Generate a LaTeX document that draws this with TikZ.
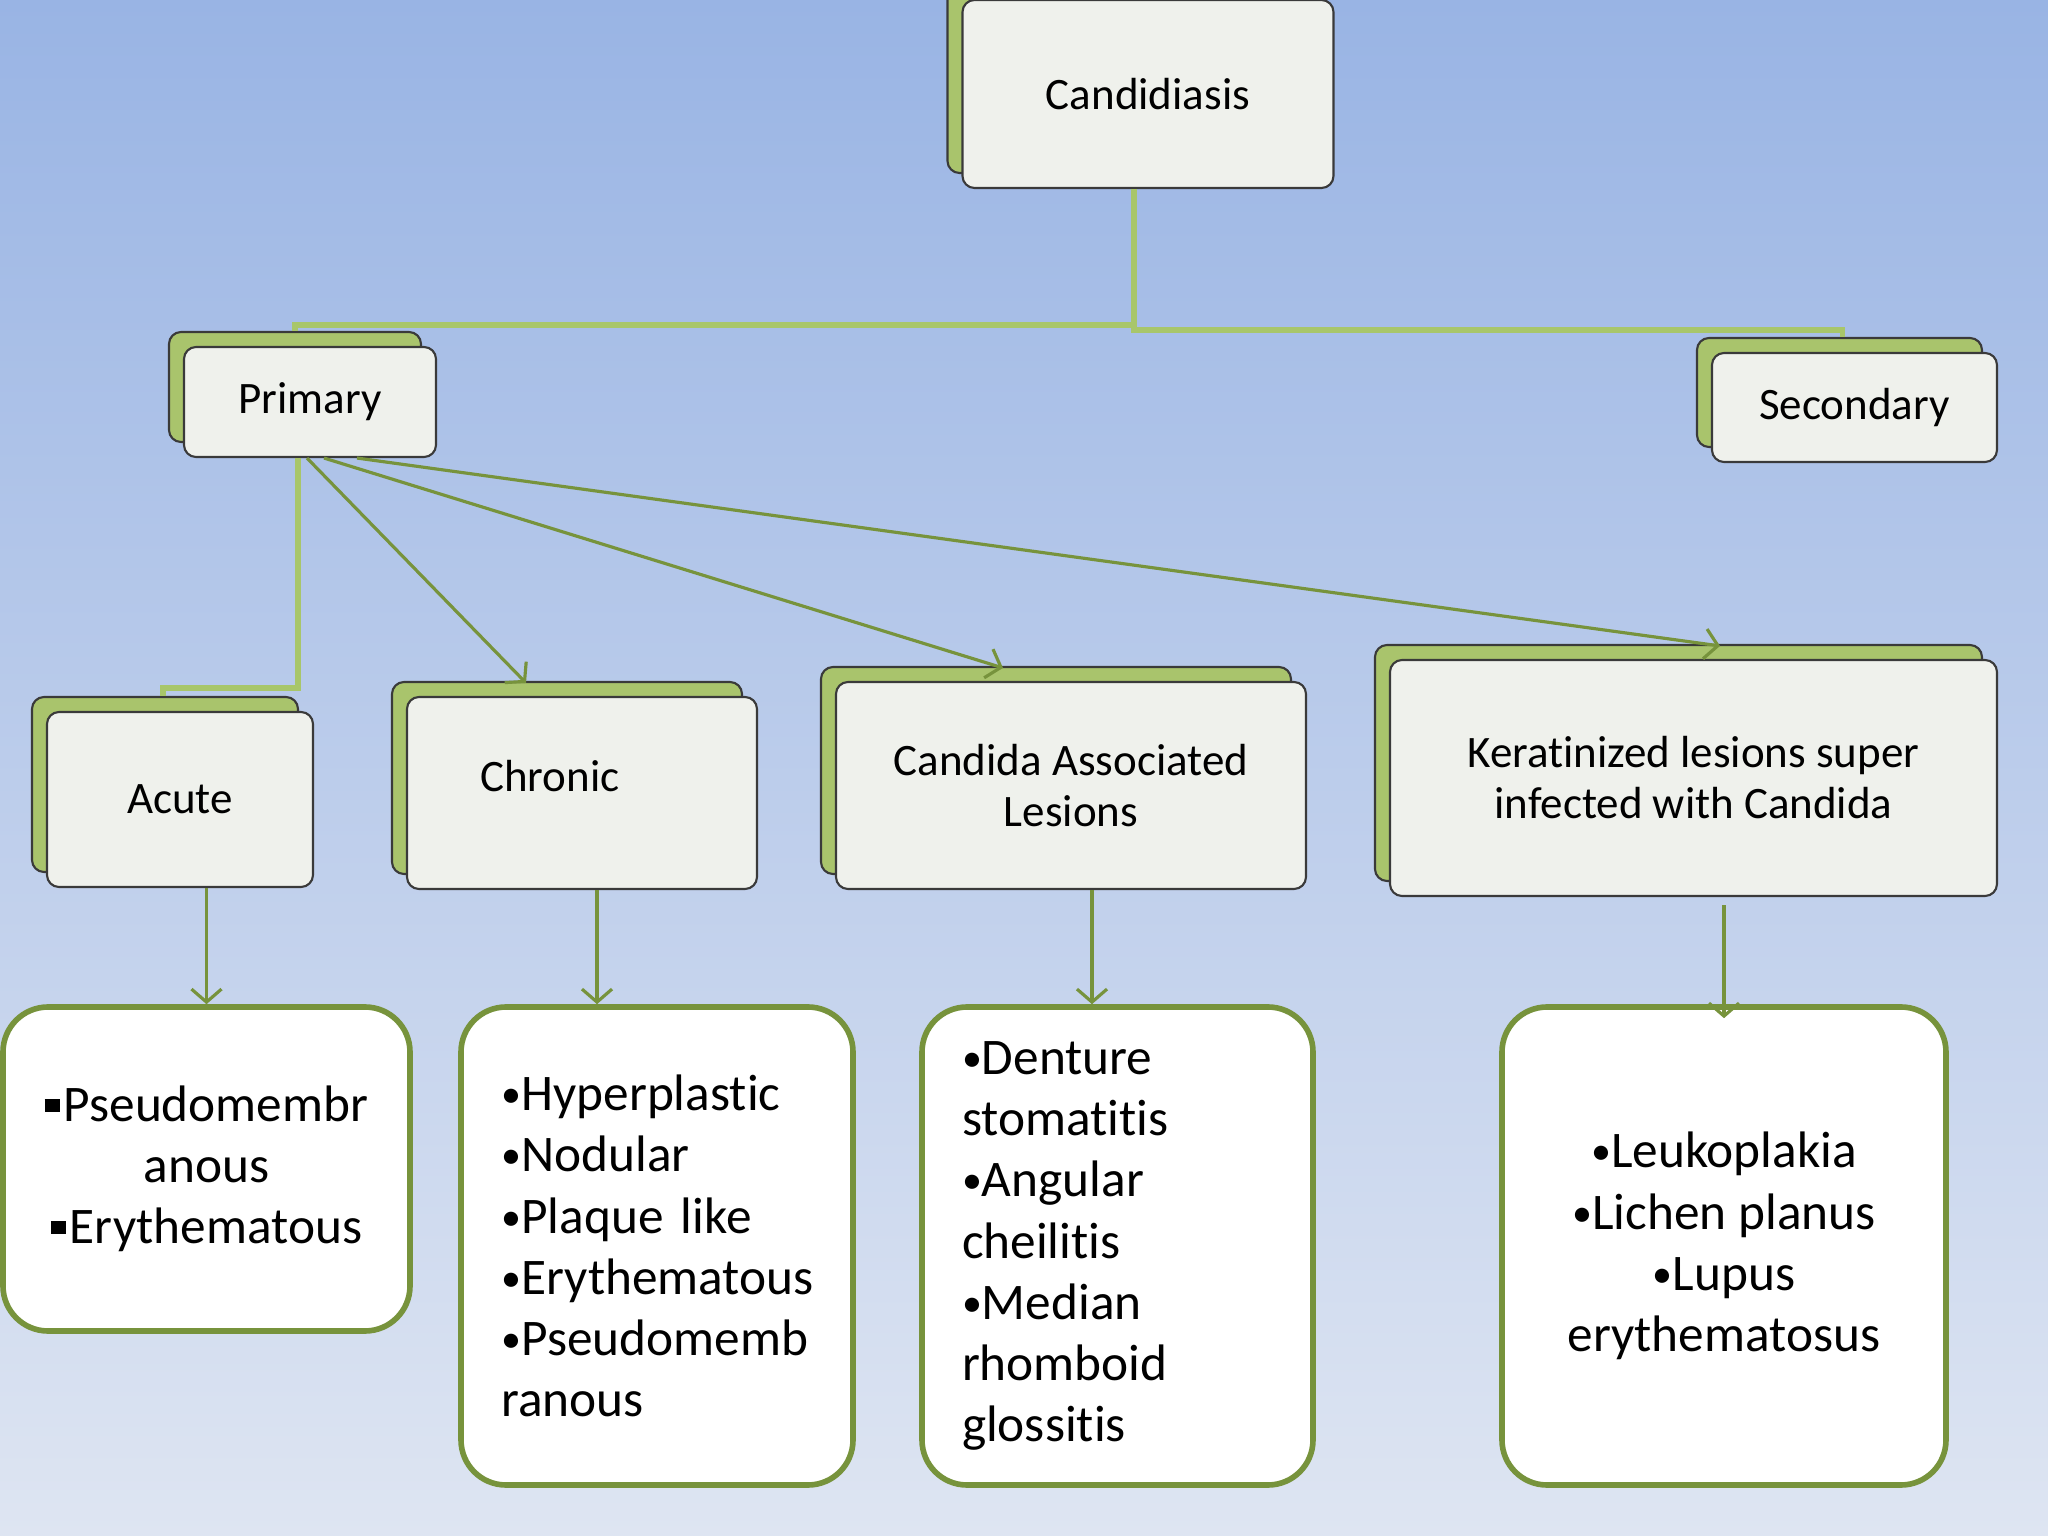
\documentclass[tikz,border=0pt]{standalone}
\usepackage{fontspec}
\setmainfont{Carlito}[Ligatures={NoCommon}]
\usepackage{graphicx}
\usepackage{xcolor}
\usepackage{tikz}
\usetikzlibrary{shapes,arrows,positioning,calc,shadows,arrows.meta}

\definecolor{bgtop}{HTML}{99B4E4}
\definecolor{bgbot}{HTML}{DEE5F2}
\definecolor{facegray}{HTML}{EFF1EC}
\definecolor{edgegray}{HTML}{3A3A3A}
\definecolor{backgreen}{HTML}{A9C46C}
\definecolor{linegreen}{HTML}{A8C66A}
\definecolor{arrowgreen}{HTML}{77933C}

\tikzset{
    topfont/.style={font=\fontsize{12.8}{14.5}\selectfont},
    topbox/.style={draw=edgegray, line width=0.6pt, fill=facegray, rounded corners=0.12cm,
        align=center, topfont,
        copy shadow={shadow xshift=-0.15cm, shadow yshift=0.15cm, fill=backgreen, draw=edgegray, line width=0.6pt}},
    listbox/.style={draw=arrowgreen, line width=1.6pt, fill=white, rounded corners=0.45cm,
        font=\fontsize{14.6}{17.4}\selectfont},
    elbow/.style={draw=linegreen, line width=1.5pt},
    arr/.style={draw=arrowgreen, line width=0.9pt, -{Straight Barb[length=1.3mm,width=3mm]}}
}

\newcommand{\sqb}{\raisebox{0.10cm}{\rule{0.15cm}{0.13cm}}\hspace{0.04cm}}
\newcommand{\bul}{\raisebox{0.03cm}{\scalebox{0.78}{•}}}

\begin{document}
\begin{tikzpicture}
    \useasboundingbox (0,0) rectangle (20.48,-15.36);
    \shade[top color=bgtop, bottom color=bgbot] (0,0) rectangle (20.48,-15.36);

    % Top and second level
    \node[topbox, minimum width=3.71cm, minimum height=1.88cm] (cand) at (11.48,-0.94) {Candidiasis};
    \node[topbox, minimum width=2.52cm, minimum height=1.10cm] (prim) at (3.10,-4.02) {Primary};
    \node[topbox, minimum width=2.85cm, minimum height=1.09cm] (sec) at (18.545,-4.075) {Secondary};

    % Kinds of primary
    \node[topbox, minimum width=2.66cm, minimum height=1.75cm] (acute) at (1.80,-7.995) {Acute};
    \node[topbox, minimum width=3.50cm, minimum height=1.92cm,
        label={[topfont, xshift=-0.32cm, yshift=0.17cm]center:Chronic}] (chron) at (5.82,-7.93) {};
    \node[topbox, minimum width=4.70cm, minimum height=2.07cm] (assoc) at (10.71,-7.855) {Candida Associated\\Lesions};
    \node[topbox, minimum width=6.07cm, minimum height=2.36cm] (kerat) at (16.935,-7.78) {Keratinized lesions super\\infected with Candida};

    % Lists
    \node[listbox, minimum width=4.07cm, minimum height=3.24cm, align=center] (acutelist) at (2.065,-11.69)
        {\sqb Pseudomembr\\anous\\\sqb Erythematous};
    \node[listbox, minimum width=3.92cm, minimum height=4.78cm, text width=3.11cm, inner xsep=0.4cm, align=left] (chronlist) at (6.57,-12.46)
        {\bul Hyperplastic\\\bul Nodular\\\bul Plaque like\\\bul Erythematous\\\bul Pseudomemb\\ranous};
    \node[listbox, minimum width=3.91cm, minimum height=4.78cm, text width=3.11cm, inner xsep=0.4cm, align=left] (assoclist) at (11.175,-12.46)
        {\bul Denture\\stomatitis\\\bul Angular\\cheilitis\\\bul Median\\rhomboid\\glossitis};
    \node[listbox, minimum width=4.44cm, minimum height=4.78cm, align=center] (keratlist) at (17.24,-12.46)
        {\bul Leukoplakia\\\bul Lichen planus\\\bul Lupus\\erythematosus};

    % Elbow lines
    \draw[elbow] ([xshift=-0.14cm]cand.south) -- ++(0,-1.36) -| ([xshift=-0.15cm,yshift=0.15cm]prim.north);
    \draw[elbow] ([xshift=-0.14cm]cand.south) -- ++(0,-1.41) -| ([xshift=-0.12cm,yshift=0.15cm]sec.north);
    \draw[elbow] ([xshift=-0.12cm]prim.south) -- ++(0,-2.30) -| ([xshift=-0.17cm,yshift=0.15cm]acute.north);

    % Arrows from primary
    \draw[arr] ([xshift=-0.03cm]prim.south) -- ([xshift=-0.56cm,yshift=0.13cm]chron.north);
    \draw[arr] ([xshift=0.14cm]prim.south) -- ([xshift=-0.68cm,yshift=0.13cm]assoc.north);
    \draw[arr] ([xshift=0.47cm]prim.south) -- ([xshift=0.265cm,yshift=0.13cm]kerat.north);

    % Arrows down to lists
    \draw[arr] (acutelist.north |- acute.south) -- (acutelist.north);
    \draw[arr] ([xshift=0.15cm]chron.south) -- ([xshift=0.15cm]chron.south |- chronlist.north);
    \draw[arr] ([xshift=0.21cm]assoc.south) -- ([xshift=0.21cm]assoc.south |- assoclist.north);
    \draw[arr] ([yshift=-0.08cm]keratlist.north |- kerat.south) -- ([yshift=-0.14cm]keratlist.north);
\end{tikzpicture}
\end{document}
